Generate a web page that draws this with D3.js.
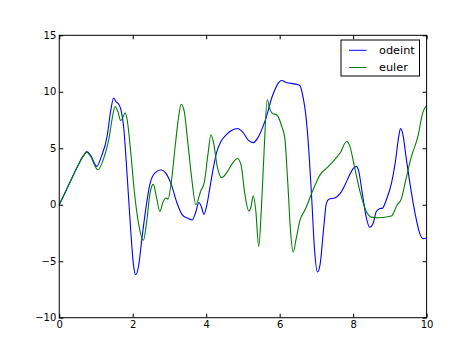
<!DOCTYPE html>
<html>
<head>
<meta charset="utf-8">
<script src="https://cdn.jsdelivr.net/npm/d3@7"></script>
<style>
  body { margin: 0; background: #fff; }
  text { font-family: "DejaVu Sans", sans-serif; }
</style>
</head>
<body>
<svg id="chart"></svg>
<script>
// time and solution values
const odeintT = [0, 0.25, 0.5, 0.65, 0.75, 0.85, 1.02, 1.15, 1.3, 1.4, 1.48, 1.55, 1.62, 1.68, 1.75, 1.85, 1.95, 2.02, 2.08, 2.15, 2.25, 2.35, 2.47, 2.6, 2.77, 2.9, 3.05, 3.2, 3.35, 3.5, 3.62, 3.72, 3.8, 3.87, 3.94, 4.02, 4.1, 4.18, 4.28, 4.4, 4.55, 4.7, 4.85, 5.0, 5.15, 5.28, 5.4, 5.6, 5.8, 5.95, 6.05, 6.2, 6.4, 6.55, 6.62, 6.73, 6.8, 6.87, 6.95, 7.03, 7.1, 7.2, 7.27, 7.35, 7.5, 7.65, 7.77, 7.9, 8.0, 8.09, 8.15, 8.25, 8.35, 8.45, 8.55, 8.63, 8.72, 8.8, 8.9, 9.04, 9.15, 9.24, 9.29, 9.35, 9.45, 9.58, 9.7, 9.8, 9.9, 10];
const odeintY = [0, 1.7, 3.4, 4.3, 4.7, 4.4, 3.4, 4.3, 6.0, 8.3, 9.45, 9.1, 8.9, 8.4, 7.0, 2.5, -2.5, -5.3, -6.2, -5.6, -3.0, -0.5, 1.85, 2.8, 3.1, 2.8, 1.8, 0.2, -0.9, -1.2, -1.35, -0.6, 0.2, -0.2, -0.85, 0.0, 1.5, 3.0, 4.6, 5.6, 6.2, 6.6, 6.75, 6.4, 5.7, 5.5, 5.9, 7.4, 9.6, 10.7, 11.0, 10.8, 10.7, 10.55, 9.8, 7.4, 4.5, 0.7, -4.0, -5.95, -5.3, -2.0, 0.1, 0.5, 0.6, 1.0, 1.7, 2.6, 3.2, 3.4, 3.0, 1.0, -1.0, -2.0, -1.6, -0.6, -0.35, -0.3, 0.4, 1.85, 3.8, 6.0, 6.75, 6.3, 4.0, 1.2, -1.0, -2.4, -3.0, -2.95];

const eulerT = [0, 0.25, 0.5, 0.65, 0.75, 0.85, 1.05, 1.2, 1.35, 1.45, 1.52, 1.6, 1.67, 1.73, 1.79, 1.85, 1.95, 2.05, 2.15, 2.29, 2.38, 2.47, 2.56, 2.65, 2.74, 2.82, 2.9, 2.96, 3.05, 3.15, 3.25, 3.32, 3.4, 3.5, 3.6, 3.72, 3.85, 3.95, 4.05, 4.13, 4.2, 4.3, 4.42, 4.55, 4.7, 4.85, 4.95, 5.05, 5.16, 5.22, 5.28, 5.35, 5.43, 5.5, 5.58, 5.66, 5.74, 5.82, 5.9, 5.96, 6.05, 6.14, 6.22, 6.3, 6.37, 6.45, 6.55, 6.7, 6.87, 7.0, 7.09, 7.3, 7.5, 7.65, 7.82, 7.9, 8.04, 8.2, 8.36, 8.5, 8.7, 9.04, 9.2, 9.31, 9.42, 9.58, 9.76, 9.9, 10];
const eulerY = [0, 1.7, 3.4, 4.3, 4.65, 4.3, 3.1, 4.0, 5.8, 7.8, 8.7, 8.2, 7.45, 7.7, 8.15, 7.5, 4.5, 1.0, -1.5, -3.15, -1.5, 1.0, 1.8, 0.6, -0.6, 0.2, 0.6, 0.5, 2.0, 5.0, 7.8, 8.9, 8.3, 5.5, 2.5, 0.0, 1.2, 2.0, 4.5, 6.2, 5.5, 3.4, 2.4, 2.8, 3.6, 4.1, 3.5, 1.0, -0.55, -0.2, 0.8, -0.5, -3.7, -0.5, 5.0, 9.3, 8.4, 8.05, 8.0, 7.8, 7.0, 5.9, 2.0, -2.5, -4.2, -3.0, -1.4, -0.4, 1.0, 2.0, 2.6, 3.3, 4.0, 4.6, 5.6, 5.3, 3.3, 1.0, -0.6, -1.1, -1.15, -1.0, 0.0, 0.5, 2.0, 4.2, 6.0, 8.2, 8.8];

const xTicks = [0, 2, 4, 6, 8, 10];
const yTicks = [-10, -5, 0, 5, 10, 15];
const seriesNames = ["odeint", "euler"];
const seriesColors = ["#0000ff", "#008000"];

const width = 474, height = 353;
const margin = { left: 59.25, right: 426.6, top: 35.3, bottom: 317.7 };

const svg = d3.select("#chart")
  .attr("width", width)
  .attr("height", height);

const x = d3.scaleLinear().domain([0, 10]).range([margin.left, margin.right]);
const y = d3.scaleLinear().domain([-10, 15]).range([margin.bottom, margin.top]);

// lines
const line = d3.line()
  .x(d => x(d[0]))
  .y(d => y(d[1]))
  .curve(d3.curveMonotoneX);

const series = [
  d3.zip(odeintT, odeintY),
  d3.zip(eulerT, eulerY)
];

svg.append("g")
  .selectAll("path")
  .data(series)
  .join("path")
    .attr("fill", "none")
    .attr("stroke", (d, i) => seriesColors[i])
    .attr("stroke-width", 1.1)
    .attr("d", line);

// axes, ticks pointing inward on all four sides
const axisStyle = g => {
  g.select(".domain").remove();
  g.selectAll("line").attr("stroke", "#000");
  g.selectAll("text").attr("font-size", 10).attr("fill", "#000");
};

svg.append("g")
  .attr("transform", `translate(0,${margin.bottom})`)
  .call(d3.axisBottom(x).tickValues(xTicks).tickSizeInner(-4).tickPadding(3))
  .call(axisStyle);

svg.append("g")
  .attr("transform", `translate(0,${margin.top})`)
  .call(d3.axisTop(x).tickValues(xTicks).tickSizeInner(-4).tickFormat(""))
  .call(axisStyle);

svg.append("g")
  .attr("transform", `translate(${margin.left},0)`)
  .call(d3.axisLeft(y).tickValues(yTicks).tickSizeInner(-4).tickPadding(3)
    .tickFormat(d => d < 0 ? "\u2212" + Math.abs(d) : d))
  .call(axisStyle);

svg.append("g")
  .attr("transform", `translate(${margin.right},0)`)
  .call(d3.axisRight(y).tickValues(yTicks).tickSizeInner(-4).tickFormat(""))
  .call(axisStyle);

// frame
svg.append("rect")
  .attr("x", margin.left)
  .attr("y", margin.top)
  .attr("width", margin.right - margin.left)
  .attr("height", margin.bottom - margin.top)
  .attr("fill", "none")
  .attr("stroke", "#000")
  .attr("stroke-width", 1);

// legend
const legend = svg.append("g").attr("transform", "translate(341,40)");
legend.append("rect")
  .attr("width", 78.5)
  .attr("height", 36)
  .attr("fill", "#fff")
  .attr("stroke", "#000");

const item = legend.selectAll(".item")
  .data(seriesNames)
  .join("g")
    .attr("class", "item")
    .attr("transform", (d, i) => `translate(0,${10.3 + i * 17.2})`);

item.append("line")
  .attr("x1", 8).attr("x2", 25.5)
  .attr("stroke", (d, i) => seriesColors[i]);

item.append("text")
  .attr("x", 38)
  .attr("dy", "0.35em")
  .attr("font-size", 11.3)
  .text(d => d);
</script>
</body>
</html>
